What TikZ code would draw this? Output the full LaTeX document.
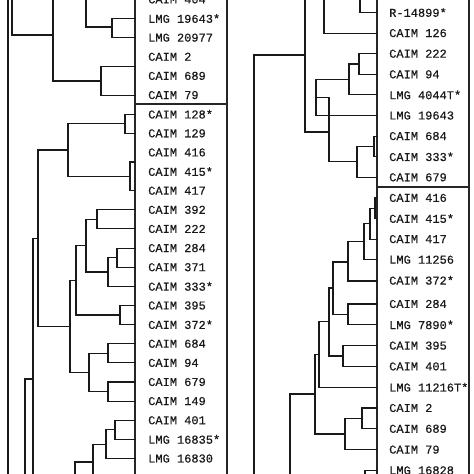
\documentclass[tikz,border=0pt]{standalone}
\usepackage{fontspec}
\newfontfamily\courb{Liberation Mono}[BoldFont={Liberation Mono}, BoldFeatures={FakeBold=0.5}]
\tikzset{
  lbl/.style={anchor=west, inner sep=0pt, font=\courb\bfseries\fontsize{12}{12}\selectfont, text=black!90},
  br/.style={line width=1.1pt, black!90, line cap=rect},
  frame/.style={line width=1.1pt, black!85}
}
\begin{document}
\begin{tikzpicture}[x=1pt, y=-1pt]
\useasboundingbox (0,0) rectangle (474,474);
\clip (0,0) rectangle (474,474);
\fill[white] (0,0) rectangle (474,474);
% ---------- left panel labels ----------
\foreach \t [count=\i from 0] in {CAIM 404,LMG 19643*,LMG 20977,CAIM 2,CAIM 689,CAIM 79,CAIM 128*,CAIM 129,CAIM 416,CAIM 415*,CAIM 417,CAIM 392,CAIM 222,CAIM 284,CAIM 371,CAIM 333*,CAIM 395,CAIM 372*,CAIM 684,CAIM 94,CAIM 679,CAIM 149,CAIM 401,LMG 16835*,LMG 16830}{
  \pgfmathsetmacro{\yy}{-0.6+19.13*\i}
  \node[lbl] (L\i) at (148,\yy) {\t};
}
% ---------- right panel labels ----------
\foreach \t [count=\i from 0] in {R-14899*,CAIM 126,CAIM 222,CAIM 94,LMG 4044T*,LMG 19643,CAIM 684,CAIM 333*,CAIM 679,CAIM 416,CAIM 415*,CAIM 417,LMG 11256,CAIM 372*}{
  \pgfmathsetmacro{\yy}{12.5+20.6*\i}
  \node[lbl] (R\i) at (389,\yy) {\t};
}
\foreach \t [count=\i from 14] in {CAIM 284,LMG 7890*,CAIM 395,CAIM 401,LMG 11216T*,CAIM 2,CAIM 689,CAIM 79,LMG 16828}{
  \pgfmathsetmacro{\yy}{304+20.8*(\i-14)}
  \node[lbl] (R\i) at (389,\yy) {\t};
}
% ---------- frames ----------
\draw[frame] (135,-10) -- (135,490);
\draw[frame] (227,-10) -- (227,490);
\draw[frame] (135,104) -- (227,104);
\draw[frame] (377,-10) -- (377,490);
\draw[frame] (469,-10) -- (469,490);
\draw[frame] (377,187) -- (469,187);
% ---------- left dendrogram ----------
\draw[br] (8,-10) -- (8,490);
\draw[br] (12,-10) -- (12,35) -- (53,35);
\draw[br] (53,-10) -- (53,81) -- (101,81);
\draw[br] (86,-20) -- (86,27) -- (112,27);
\draw[br] (135,18.5) -- (112,18.5) -- (112,37.7) -- (135,37.7);
\draw[br] (135,66.5) -- (101,66.5) -- (101,95.2) -- (135,95.2);
\draw[br] (135,114.2) -- (125,114.2) -- (125,133.3) -- (135,133.3);
\draw[br] (125,123.8) -- (68,123.8) -- (68,176.3) -- (130,176.3);
\draw[br] (135,162) -- (130,162) -- (130,190.7) -- (135,190.7);
\draw[br] (68,150) -- (38,150);
\draw[br] (135,209.8) -- (97,209.8) -- (97,228.9) -- (135,228.9);
\draw[br] (135,248.1) -- (117,248.1) -- (117,267.2) -- (135,267.2);
\draw[br] (117,257.6) -- (108,257.6) -- (108,286.3) -- (135,286.3);
\draw[br] (108,272) -- (86,272) -- (86,219.4) -- (97,219.4);
\draw[br] (86,245.7) -- (76,245.7);
\draw[br] (135,305.4) -- (120,305.4) -- (120,324.6) -- (135,324.6);
\draw[br] (120,315) -- (76,315) -- (76,245.7);
\draw[br] (76,280.4) -- (70,280.4);
\draw[br] (135,343.7) -- (108,343.7) -- (108,362.8) -- (135,362.8);
\draw[br] (135,382) -- (108,382) -- (108,401.1) -- (135,401.1);
\draw[br] (108,353.3) -- (89,353.3) -- (89,391.5) -- (108,391.5);
\draw[br] (89,372.4) -- (70,372.4) -- (70,280.4);
\draw[br] (70,326.4) -- (38,326.4) -- (38,150);
\draw[br] (38,238.2) -- (33,238.2) -- (33,490);
\draw[br] (33,379) -- (25,379) -- (25,490);
\draw[br] (135,420.2) -- (115,420.2) -- (115,439.3) -- (135,439.3);
\draw[br] (115,429.8) -- (106,429.8) -- (106,458.4) -- (135,458.4);
\draw[br] (106,444.1) -- (93,444.1) -- (93,490);
\draw[br] (93,462) -- (75,462) -- (75,490);
% ---------- right dendrogram ----------
\draw[br] (254,490) -- (254,55) -- (305,55);
\draw[br] (305,-10) -- (305,132) -- (329,132);
\draw[br] (324,-10) -- (324,33.1) -- (377,33.1);
\draw[br] (360,-10) -- (360,12.5) -- (377,12.5);
\draw[br] (377,53.7) -- (359,53.7) -- (359,74.3) -- (377,74.3);
\draw[br] (359,64) -- (349,64) -- (349,94.9) -- (377,94.9);
\draw[br] (349,79.5) -- (316,79.5) -- (316,115.5) -- (377,115.5);
\draw[br] (377,136.1) -- (374,136.1) -- (374,156.7) -- (377,156.7);
\draw[br] (374,146.4) -- (357,146.4) -- (357,177.3) -- (377,177.3);
\draw[br] (316,97.5) -- (329,97.5) -- (329,161.9) -- (357,161.9);
\draw[br] (377,197.9) -- (375,197.9) -- (375,218.5) -- (377,218.5);
\draw[br] (375,208.2) -- (370,208.2) -- (370,239.1) -- (377,239.1);
\draw[br] (370,223.6) -- (364,223.6) -- (364,259.7) -- (377,259.7);
\draw[br] (364,241.7) -- (348,241.7) -- (348,281) -- (377,281);
\draw[br] (377,304) -- (348,304) -- (348,324.8) -- (377,324.8);
\draw[br] (348,262) -- (333,262) -- (333,314.4) -- (348,314.4);
\draw[br] (377,345.6) -- (343,345.6) -- (343,366.4) -- (377,366.4);
\draw[br] (333,288) -- (329,288) -- (329,356) -- (343,356);
\draw[br] (329,321.5) -- (319,321.5) -- (319,387.2) -- (377,387.2);
\draw[br] (377,408) -- (362,408) -- (362,428.8) -- (377,428.8);
\draw[br] (362,418.4) -- (345,418.4) -- (345,449.6) -- (377,449.6);
\draw[br] (319,354.5) -- (315,354.5) -- (315,434) -- (345,434);
\draw[br] (315,394) -- (290,394) -- (290,490);
\draw[br] (377,470.4) -- (365,470.4) -- (365,490);
\end{tikzpicture}
\end{document}
